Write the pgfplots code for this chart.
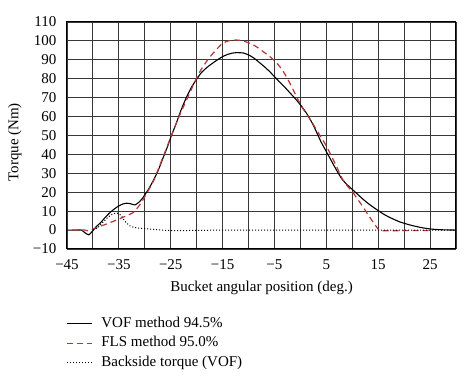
\documentclass[border=0pt]{standalone}
\usepackage{fontspec}
\setmainfont{Liberation Serif}
\usepackage{pgfplots}
\pgfplotsset{compat=1.18}
\definecolor{flsred}{RGB}{180,55,55}
\definecolor{gridgray}{RGB}{55,55,55}
\begin{document}
\fontsize{15}{18}\selectfont
\begin{tikzpicture}
\useasboundingbox (-67pt,-138pt) rectangle (407pt,249pt);
\begin{axis}[
  at={(0pt,0pt)}, anchor=south west,
  scale only axis, width=389pt, height=227pt,
  xmin=-45, xmax=30, ymin=-10, ymax=110,
  xtick={-45,-40,...,30},
  xticklabels={−45,,−35,,−25,,−15,,−5,,5,,15,,25,},
  ytick={-10,10,20,...,110},
  yticklabels={−10,10,20,30,40,50,60,70,80,90,100,110},
  extra y ticks={0}, extra y tick labels={0},
  extra y tick style={grid=none},
  major tick length=0pt, minor tick length=0pt,
  xmajorgrids, ymajorgrids,
  major grid style={gridgray, line width=0.9pt},
  axis line style={black, line width=1pt},
  tick label style={font=\fontsize{15}{18}\selectfont},
  xticklabel shift=5.5pt,
  yticklabel shift=5.5pt,
  xlabel={Bucket angular position (deg.)},
  ylabel={Torque (Nm)},
  label style={font=\fontsize{15}{18}\selectfont},
  xlabel style={at={(axis description cs:0.5,0)}, anchor=center, yshift=-39pt},
  ylabel style={at={(axis description cs:-0.134,0.47)}, anchor=center},
  legend style={at={(axis description cs:0,0)}, anchor=north west, xshift=-4pt, yshift=-65pt,
    draw=none, fill=none, font=\fontsize{15}{18}\selectfont, row sep=4pt,
    nodes={text height=10pt, text depth=3.5pt, inner sep=1pt},
    /tikz/every odd column/.append style={column sep=8pt}},
  legend cell align=left,
  legend image code/.code={\draw[#1] (0pt,0pt) -- (25pt,0pt);},
]
\addplot[black, line width=1.1pt, smooth, tension=0.4] coordinates {
(-45,0)(-43,0)(-42.2,0)(-41.5,-1.5)(-40.8,-2.5)(-40.3,-1.2)(-40,-0.3)(-39.3,2)(-38.6,3.7)
(-37.6,6.8)(-36.7,9.3)(-35.8,11.3)(-35,12.8)(-34.2,13.8)(-33.5,14.2)(-32.7,13.9)(-31.9,13.3)
(-31.2,14.6)(-30.5,16.6)(-30,18.6)(-29.2,22)(-28.3,26.5)(-27.5,31)(-26.5,38)(-25.5,45)(-25,49)
(-24,56)(-23,63.5)(-22,70)(-21,75.5)(-20,79.8)(-19,83.5)(-18,86)(-17.4,87.3)(-16,90)(-15,91.7)
(-14,92.9)(-13,93.6)(-12.3,93.8)(-11,93.6)(-10,92.6)(-9,91)(-8,88.8)(-7,86.5)(-6,84)(-5,81.1)
(-4,78.3)(-3,75.5)(-2,72.5)(-1,69.5)(0,66.2)(1,62.5)(2,58)(3,52.5)(4,46.5)(5,41.5)(6,36.5)
(7,31.5)(8,27)(9,24)(10,21.5)(11,19)(12,16.5)(13,14.2)(14,12.2)(15,10.3)(16,8.5)(17,7)
(18,5.7)(19,4.5)(20,3.6)(21,2.8)(22,2.1)(23,1.5)(24,1)(25,0.6)(26,0.35)(27,0.2)(28,0.1)(30,0)
};
\addlegendentry{VOF method 94.5\%}
\addplot[flsred, line width=1.2pt, dash pattern=on 6pt off 4pt, smooth, tension=0.4] coordinates {
(-44,0)(-41.5,0)(-41,-0.4)(-40.5,-0.2)(-40,0.5)(-39,1.5)(-38,2.6)(-37,3.6)(-36,4.7)(-35,5.8)
(-34,7)(-33,8.2)(-32.2,9.3)(-31.5,11.5)(-31,13.2)(-30.5,15.3)(-30,17.7)(-29.5,20)(-29,22.5)
(-28.3,26)(-27.5,31.5)(-26.5,38.5)(-25.5,45.5)(-25,49)(-24,56)(-23,62.5)(-22,68.5)(-21,74.5)
(-20,80.5)(-19,85.5)(-18,89.5)(-17.4,91.7)(-16,96)(-15,98.7)(-14,99.9)(-13,100.5)(-12,100.4)
(-11,100)(-10,99)(-9,97.8)(-8,96)(-7,94)(-6,92)(-5,89.5)(-4,86.5)(-3,82.5)(-2,77.5)(-1,72)
(0,66.5)(1,62)(2,58)(3,53.5)(4,49)(5,44.5)(6,39)(7,33.5)(8,27.5)(9,23.5)(10,20.3)(11,16.5)
(12,12.5)(13,8.3)(14,4.3)(15,0.5)(15.5,-0.3)(20,-0.3)(25,-0.3)
};
\addlegendentry{FLS method 95.0\%}
\addplot[black, line width=1pt, dash pattern=on 1pt off 2pt, smooth, tension=0.4] coordinates {
(-40,0.3)(-39.2,1)(-38.3,3.5)(-37.3,6.3)(-36.3,8.3)(-35.4,9)(-34.6,7.8)(-33.8,4.6)(-32.9,2.3)
(-32,1.4)(-31,1)(-29.7,0.7)(-28,0.3)(-25.7,-0.2)(-20,-0.2)(-15,0)(-5,0)(5,0)(15,0)(25,0)(30,0)
};
\addlegendentry{Backside torque (VOF)}
\end{axis}
\end{tikzpicture}
\end{document}
